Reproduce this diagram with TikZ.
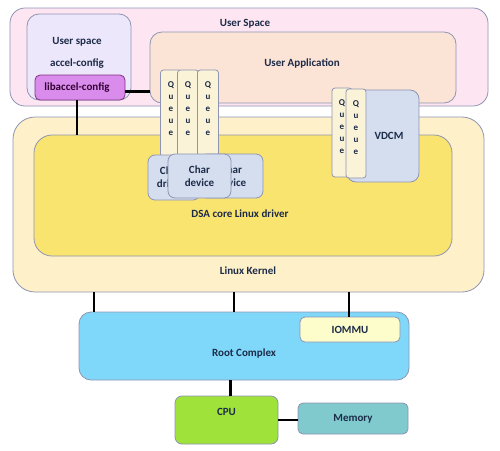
\documentclass[tikz,border=0pt]{standalone}
\usepackage{fontspec}
\setmainfont{Carlito}
\usepackage{xcolor}
\usetikzlibrary{shapes, positioning, calc}

\definecolor{edgegray}{HTML}{8E94B2}
\definecolor{inkblue}{HTML}{1C2B48}
\definecolor{uspink}{HTML}{FDE6F2}
\definecolor{acclav}{HTML}{EDE7FB}
\definecolor{libviolet}{HTML}{D98CEB}
\definecolor{apppeach}{HTML}{FBE3D6}
\definecolor{kerncream}{HTML}{FEF1C9}
\definecolor{dsayellow}{HTML}{FAE470}
\definecolor{queuecream}{HTML}{FBF3D8}
\definecolor{devblue}{HTML}{D4DEEF}
\definecolor{rootblue}{HTML}{7FD8F9}
\definecolor{iommuyel}{HTML}{FDFDCC}
\definecolor{cpugreen}{HTML}{9EE23A}
\definecolor{memteal}{HTML}{80C9CD}

\tikzstyle{area} = [rectangle, draw=edgegray, line width=0.8pt, rounded corners=15pt, inner sep=0pt]
\tikzstyle{block} = [rectangle, draw=edgegray, line width=0.8pt, rounded corners=5pt, inner sep=0pt, text=inkblue, font=\bfseries\fontsize{11}{13}\selectfont, align=center]
\tikzstyle{queue} = [block, fill=queuecream, minimum width=21pt, minimum height=87pt, rounded corners=3pt,
    label={[anchor=north, yshift=-8pt, align=center, text=inkblue, font=\bfseries\fontsize{9}{12}\selectfont]north:Q\\u\\e\\u\\e}]
\tikzstyle{caption} = [text=inkblue, font=\bfseries\fontsize{11}{13}\selectfont]
\tikzstyle{link} = [draw, black, line width=2.2pt]

\begin{document}
\begin{tikzpicture}[x=1pt, y=-1pt]
    \useasboundingbox (0,0) rectangle (500,450);

    % User space
    \node [area, fill=uspink, minimum width=478pt, minimum height=98pt] (userspace) at (249,57) {};
    \node [caption] (uslabel) at (245,24) {User Space};
    \node [area, fill=acclav, minimum width=104pt, minimum height=86pt, rounded corners=12pt] (accel) at (79,57) {};
    \node [caption] (acclabel) at (77,42) {User space};
    \node [caption] (acclabel2) at (77,64) {accel-config};
    \node [block, fill=libviolet, draw=violet!60!gray, text=violet!40!black, minimum width=90pt, minimum height=25pt] (libcfg) at (80,87.5) {libaccel-config\hspace*{6pt}};
    \node [area, fill=apppeach, minimum width=306pt, minimum height=71pt, rounded corners=12pt] (userapp) at (303,67.5) {};
    \node [caption] (applabel) at (302,63) {User Application};

    % Kernel
    \node [area, fill=kerncream, minimum width=471pt, minimum height=175pt, rounded corners=22pt] (kernel) at (248.5,204.5) {};
    \node [caption] (kernlabel) at (248,271) {Linux Kernel};
    \node [area, fill=dsayellow, minimum width=418pt, minimum height=121pt, rounded corners=18pt] (dsacore) at (243,195.5) {};
    \node [caption] (dsalabel) at (240,214) {DSA core Linux driver};

    % Queues and char devices
    \node [queue] (q1) at (171,113.5) {};
    \node [queue] (q2) at (188,113.5) {};
    \node [queue] (q3) at (208,113.5) {};
    \node [block, fill=devblue, minimum width=52pt, minimum height=45pt, rounded corners=7pt] (cdleft) at (174,177.5) {Char\hspace*{7pt}\\driver\hspace*{7pt}};
    \node [block, fill=devblue, minimum width=63pt, minimum height=44pt, rounded corners=7pt] (cdright) at (231.5,176) {Char\\device};
    \node [block, fill=devblue, minimum width=63pt, minimum height=44pt, rounded corners=7pt] (cdmid) at (199.5,176) {Char\\device};

    % VDCM
    \node [block, fill=devblue, minimum width=72pt, minimum height=92pt, rounded corners=9pt] (vdcm) at (383,136) {\hspace*{12pt}VDCM};
    \node [queue, minimum width=20pt, minimum height=89pt] (vq1) at (342,132.5) {};
    \node [queue, minimum width=20pt, minimum height=89pt] (vq2) at (356,133.5) {};

    % Hardware
    \node [area, fill=rootblue, minimum width=330pt, minimum height=68pt, rounded corners=12pt] (root) at (244,346) {};
    \node [caption] (rootlabel) at (244,353) {Root Complex};
    \node [block, fill=iommuyel, minimum width=100pt, minimum height=25pt] (iommu) at (350,329.5) {IOMMU};
    \node [block, fill=cpugreen, minimum width=103pt, minimum height=48pt, rounded corners=7pt] (cpu) at (226.5,420) {CPU\\[4pt]};
    \node [block, fill=memteal, minimum width=110pt, minimum height=31pt] (memory) at (353,418.5) {Memory};

    \coordinate (kdrop1) at (94,292);
    \coordinate (kdrop2) at (234,292);
    \coordinate (kdrop3) at (349,292);

    % Lines
    \path [link] ([yshift=-4pt]libcfg.east) -- ([yshift=-4pt]libcfg.east -| userapp.west);
    \path [link] ([xshift=-3pt]libcfg.south) -- ([xshift=-3pt]libcfg.south |- dsacore.north);
    \path [link] (kdrop1) -- (kdrop1 |- root.north);
    \path [link] (kdrop2) -- (kdrop2 |- root.north);
    \path [link] (kdrop3) -- (kdrop3 |- iommu.north);
    \path [link] ([xshift=4pt]cpu.north) -- ([xshift=4pt]cpu.north |- root.south);
    \path [link] (cpu.east) -- (cpu.east -| memory.west);

\end{tikzpicture}
\end{document}
